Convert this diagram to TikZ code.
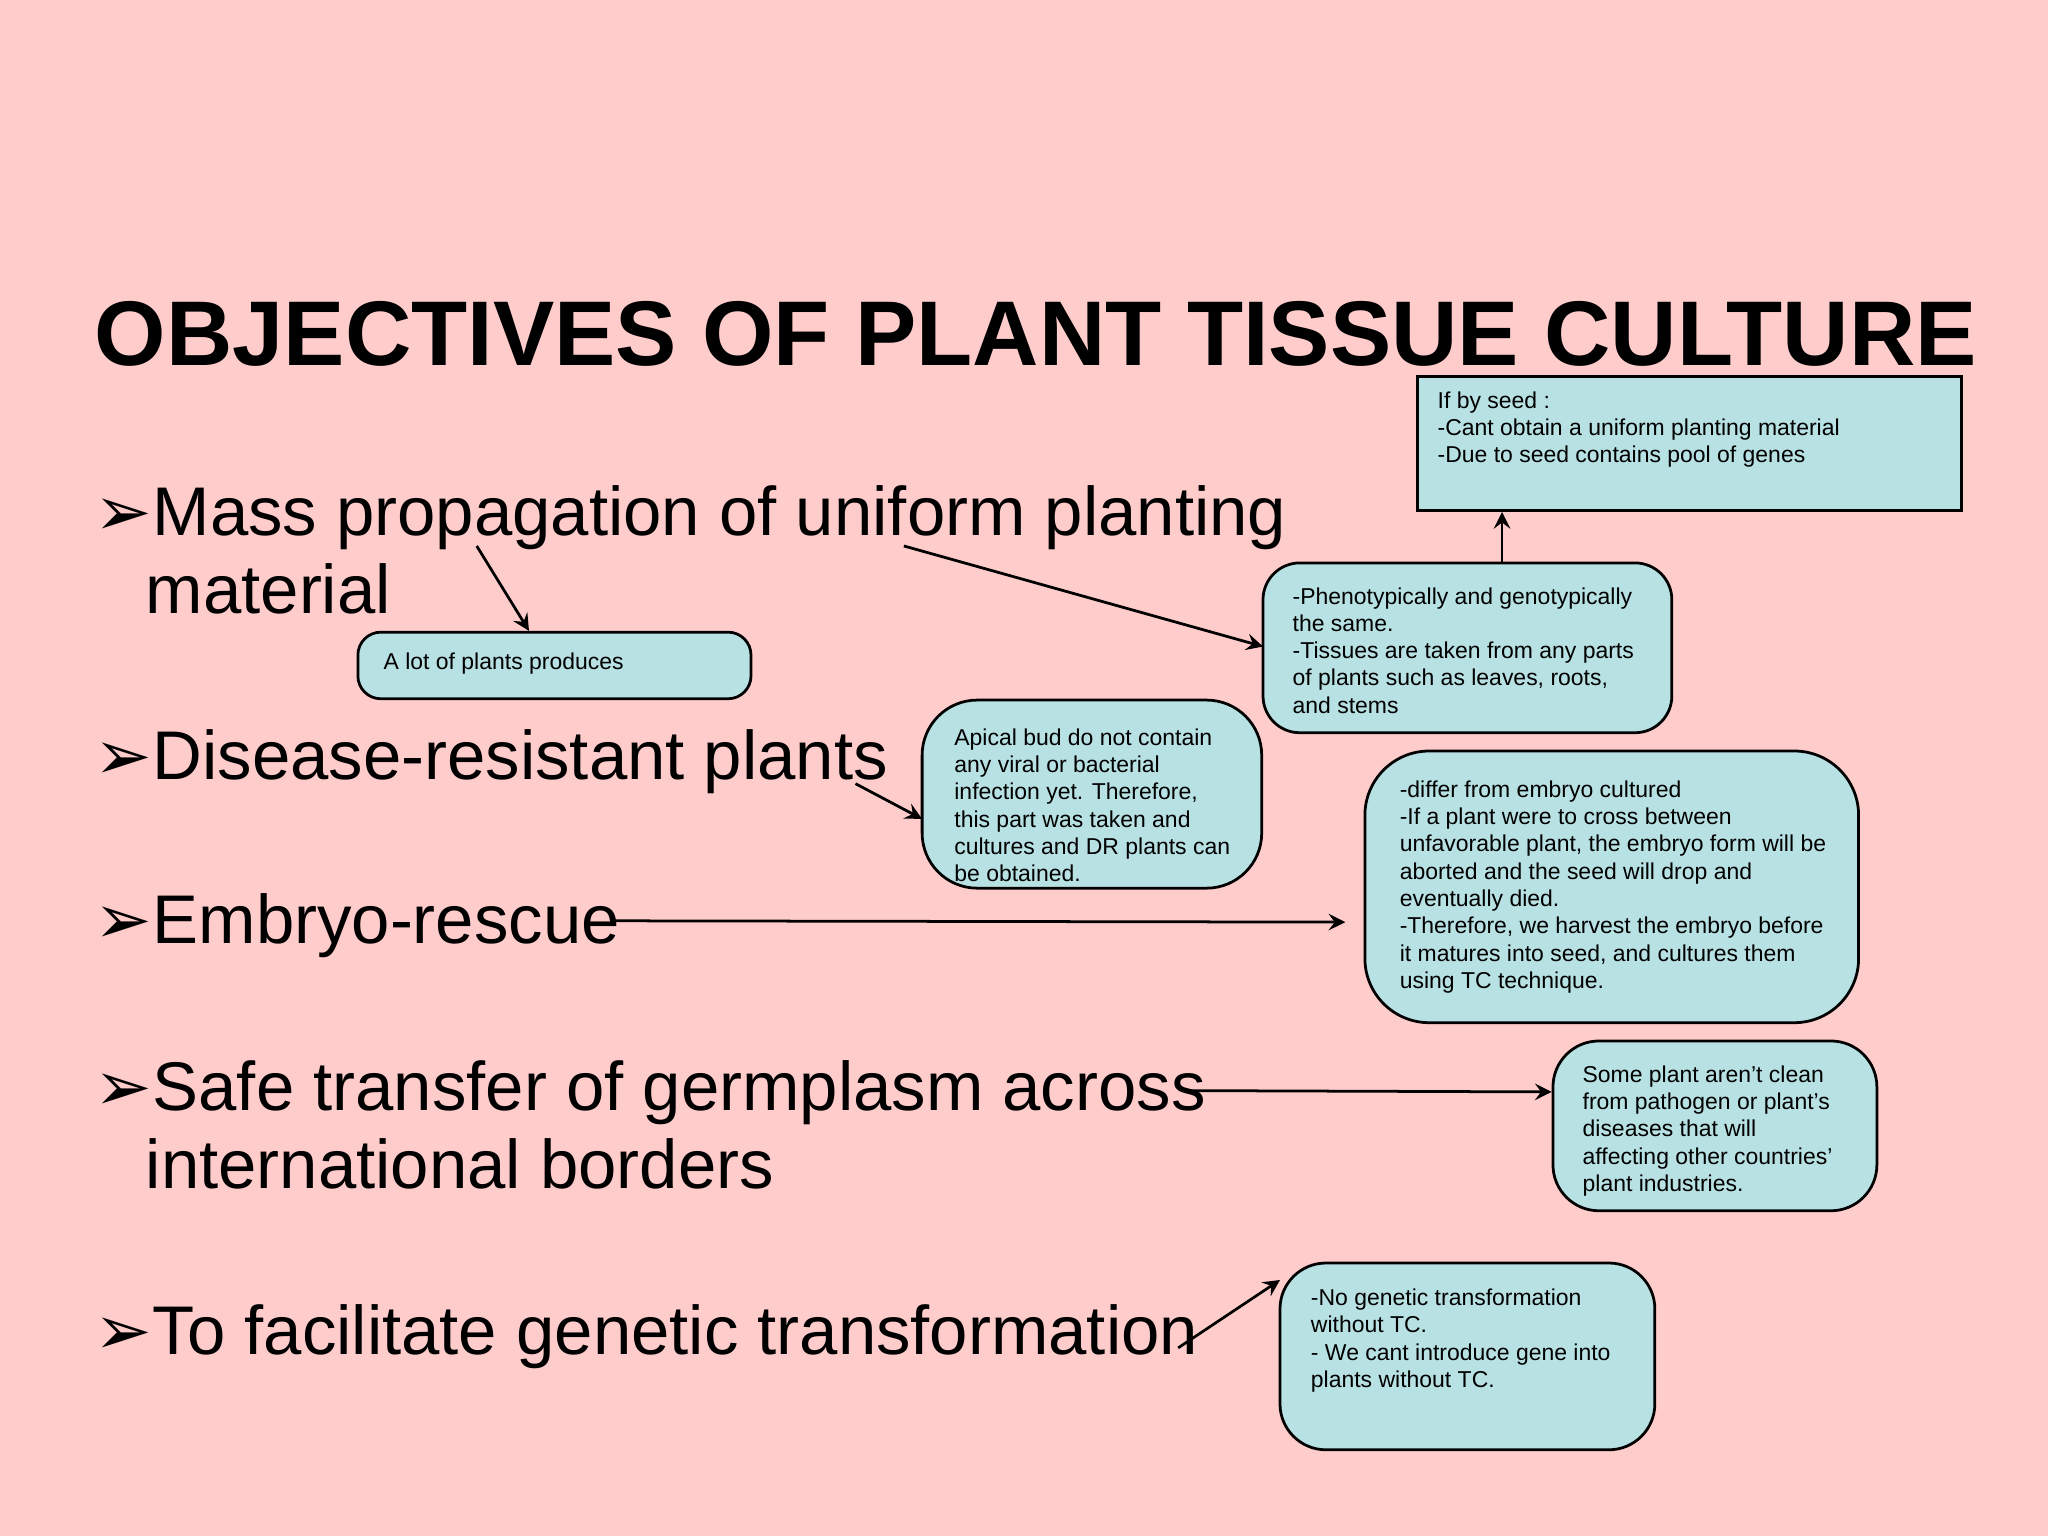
\documentclass[tikz,border=0pt]{standalone}
\usepackage{fontspec}
\setmainfont{Liberation Sans}
\newfontfamily\symfont{DejaVu Sans}
\usetikzlibrary{positioning}
\definecolor{slidebg}{RGB}{255,204,204}
\definecolor{notefill}{RGB}{184,225,228}

\begin{document}
\begin{tikzpicture}[x=0.01cm,y=-0.01cm,>=stealth,
    note/.style={draw=black,fill=notefill,rounded corners=#1,line width=0.6pt},
    note/.default=8pt,
    notetext/.style={anchor=north west,inner sep=0pt,align=left,font=\fontsize{5}{5.95}\selectfont},
    point/.style={anchor=base west,inner sep=0pt,font=\fontsize{15}{17}\selectfont},
    link/.style={->,line width=0.6pt}]
                \fill [slidebg] (0,0) rectangle (1568,1176);
                \node [anchor=base west,inner sep=0pt,font=\fontsize{20}{22}\bfseries] (title) at (72,280) {OBJECTIVES OF PLANT TISSUE CULTURE};
                % bullets
                \node [point] (mass) at (72,410) {{\symfont ➢}Mass propagation of uniform planting};
                \node [point] (mass2) at (111,470) {material};
                \node [point] (disease) at (72,597) {{\symfont ➢}Disease-resistant plants};
                \node [point] (embryo) at (72,722) {{\symfont ➢}Embryo-rescue};
                \node [point] (safe) at (72,850) {{\symfont ➢}Safe transfer of germplasm across};
                \node [point] (safe2) at (111,910) {international borders};
                \node [point] (genetic) at (72,1037) {{\symfont ➢}To facilitate genetic transformation};
                % notes
                \draw [note=0pt] (1085,288) rectangle (1502,391);
                \node [notetext] (seed) at (1100,299) {If by seed :\\-Cant obtain a uniform planting material\\-Due to seed contains pool of genes};
                \draw [note] (967,431) rectangle (1280,561);
                \node [notetext] (pheno) at (989,449) {-Phenotypically and genotypically\\the same.\\-Tissues are taken from any parts\\of plants such as leaves, roots,\\and stems};
                \draw [note=5pt] (274,484) rectangle (575,535);
                \node [notetext] (lot) at (293,499) {A lot of plants produces};
                \draw [note=12pt] (706,536) rectangle (966,680);
                \node [notetext] (apical) at (730,557) {Apical bud do not contain\\any viral or bacterial\\infection yet. Therefore,\\this part was taken and\\cultures and DR plants can\\be obtained.};
                \draw [note=14pt] (1045,575) rectangle (1423,783);
                \node [notetext] (rescue) at (1071,597) {-differ from embryo cultured\\-If a plant were to cross between\\unfavorable plant, the embryo form will be\\aborted and the seed will drop and\\eventually died.\\-Therefore, we harvest the embryo before\\it matures into seed, and cultures them\\using TC technique.};
                \draw [note=10pt] (1189,797) rectangle (1437,927);
                \node [notetext] (clean) at (1211,815) {Some plant aren't clean\\from pathogen or plant's\\diseases that will\\affecting other countries'\\plant industries.};
                \draw [note=10pt] (980,967) rectangle (1267,1110);
                \node [notetext] (notc) at (1003,986) {-No genetic transformation\\without TC.\\- We cant introduce gene into\\plants without TC.};
                % links
                \coordinate (m1) at (365,418);
                \coordinate (m2) at (692,418);
                \coordinate (d1) at (655,600);
                \coordinate (e1) at (470,705);
                \coordinate (s1) at (905,835);
                \coordinate (g1) at (902,1032);
                \draw [link] (m1) -- (405,483);
                \draw [link] (m2) -- (967,495);
                \draw [link] (1150,431) -- (1150,392);
                \draw [link] (d1) -- (706,627);
                \draw [link] (e1) -- (1030,706);
                \draw [link] (s1) -- (1188,836);
                \draw [link] (g1) -- (980,980);
\end{tikzpicture}
\end{document}
